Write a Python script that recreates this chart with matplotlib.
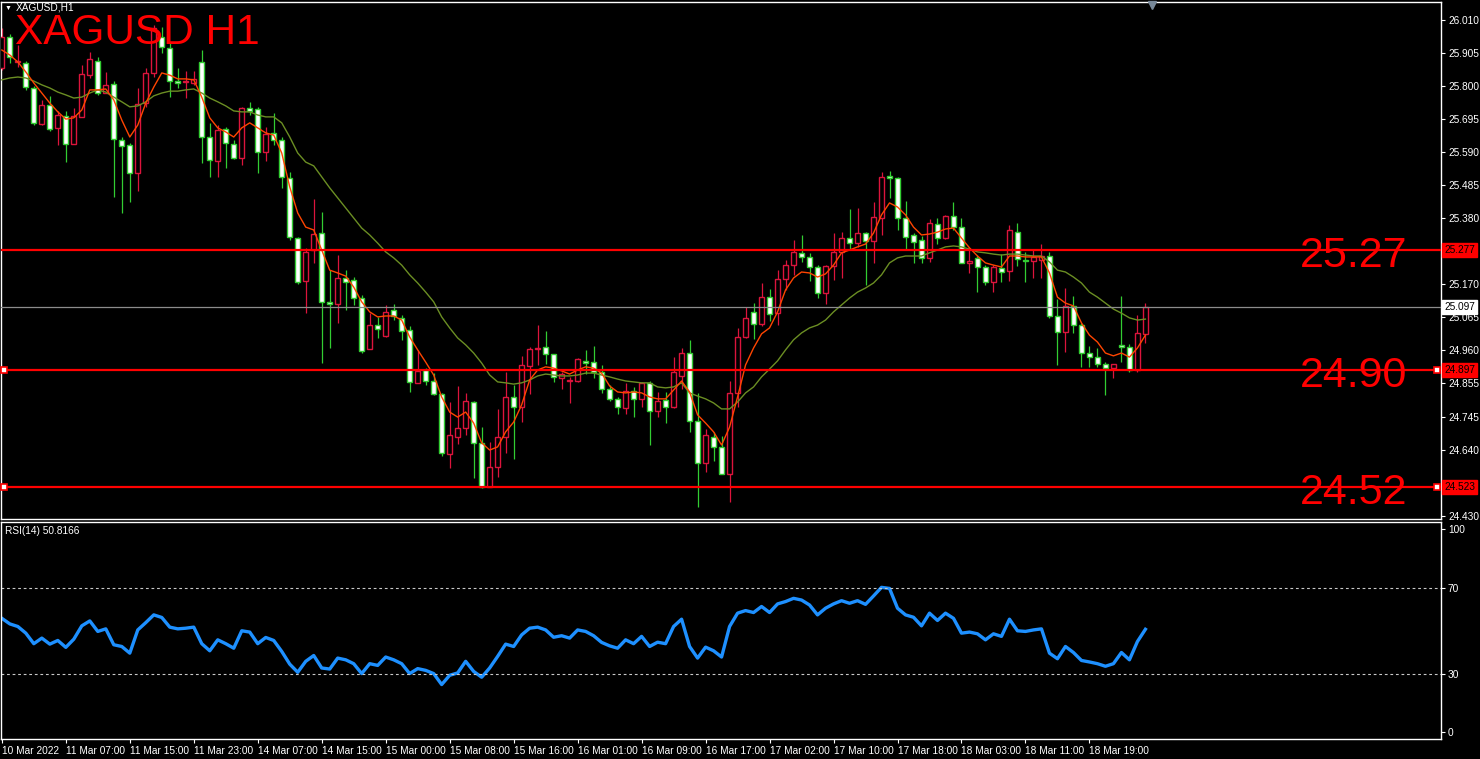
import numpy as np
import matplotlib
matplotlib.use('Agg')
import matplotlib.pyplot as plt
import matplotlib.transforms as mtransforms

plt.rcParams['font.family'] = ['Liberation Sans', 'DejaVu Sans']

# XAGUSD H1 bars, 10 Mar 23:00 .. 18 Mar 23:00
opens = [25.858, 25.956, 25.877, 25.874, 25.794, 25.679, 25.740, 25.667, 25.705, 25.616,
         25.702, 25.835, 25.880, 25.778, 25.807, 25.628, 25.613, 25.523, 25.746, 25.842,
         25.956, 25.921, 25.816, 25.813, 25.810, 25.877, 25.638, 25.562, 25.663, 25.616,
         25.571, 25.730, 25.727, 25.590, 25.651, 25.628, 25.507, 25.316, 25.179, 25.278,
         25.332, 25.113, 25.106, 25.189, 25.183, 25.125, 24.963, 25.039, 25.004, 25.087,
         25.062, 25.023, 24.855, 24.896, 24.861, 24.820, 24.628, 24.683, 24.711, 24.794,
         24.664, 24.523, 24.587, 24.683, 24.810, 24.778, 24.909, 24.963, 24.969, 24.947,
         24.871, 24.861, 24.861, 24.925, 24.921, 24.890, 24.836, 24.804, 24.775, 24.829,
         24.804, 24.855, 24.765, 24.800, 24.778, 24.877, 24.950, 24.734, 24.600, 24.683,
         24.651, 24.565, 24.823, 25.001, 25.081, 25.042, 25.128, 25.077, 25.186, 25.230,
         25.269, 25.256, 25.224, 25.141, 25.227, 25.272, 25.316, 25.300, 25.332, 25.307,
         25.380, 25.514, 25.507, 25.380, 25.326, 25.310, 25.253, 25.361, 25.316, 25.386,
         25.351, 25.237, 25.253, 25.224, 25.176, 25.221, 25.211, 25.335, 25.246, 25.243,
         25.246, 25.259, 25.068, 25.017, 25.100, 25.039, 24.950, 24.937, 24.915, 24.902,
         24.976, 24.969, 24.896, 25.011]
highs = [25.985, 25.966, 25.931, 25.880, 25.800, 25.756, 25.769, 25.721, 25.721, 25.730,
         25.867, 25.909, 25.893, 25.845, 25.816, 25.638, 25.619, 25.794, 25.858, 25.995,
         25.988, 25.937, 25.858, 25.848, 25.848, 25.915, 25.683, 25.676, 25.670, 25.628,
         25.734, 25.750, 25.734, 25.670, 25.714, 25.638, 25.527, 25.320, 25.285, 25.441,
         25.399, 25.214, 25.262, 25.214, 25.192, 25.135, 25.077, 25.065, 25.103, 25.106,
         25.071, 25.036, 24.960, 24.902, 24.886, 24.823, 24.794, 24.845, 24.823, 24.797,
         24.714, 24.667, 24.772, 24.890, 24.848, 24.941, 24.969, 25.039, 25.020, 24.947,
         24.890, 24.874, 24.934, 24.960, 24.972, 24.912, 24.848, 24.810, 24.855, 24.842,
         24.858, 24.861, 24.826, 24.826, 24.937, 24.966, 24.992, 24.823, 24.708, 24.699,
         24.686, 24.861, 25.030, 25.097, 25.109, 25.173, 25.154, 25.214, 25.246, 25.310,
         25.326, 25.269, 25.230, 25.230, 25.332, 25.335, 25.409, 25.412, 25.335, 25.431,
         25.527, 25.530, 25.511, 25.434, 25.332, 25.323, 25.377, 25.380, 25.390, 25.431,
         25.380, 25.278, 25.262, 25.230, 25.230, 25.265, 25.358, 25.364, 25.272, 25.281,
         25.297, 25.272, 25.122, 25.157, 25.132, 25.046, 24.972, 24.966, 24.921, 24.915,
         25.132, 24.979, 25.071, 25.109]
lows = [25.851, 25.874, 25.861, 25.788, 25.676, 25.676, 25.657, 25.613, 25.558, 25.616,
        25.702, 25.826, 25.772, 25.778, 25.447, 25.396, 25.431, 25.466, 25.734, 25.829,
        25.906, 25.765, 25.794, 25.762, 25.804, 25.555, 25.511, 25.511, 25.539, 25.568,
        25.549, 25.708, 25.523, 25.562, 25.613, 25.476, 25.310, 25.170, 25.077, 25.237,
        24.918, 24.966, 25.046, 25.087, 25.103, 24.950, 24.963, 24.998, 25.001, 25.055,
        24.992, 24.826, 24.855, 24.848, 24.816, 24.622, 24.584, 24.660, 24.689, 24.552,
        24.520, 24.523, 24.555, 24.632, 24.613, 24.730, 24.820, 24.912, 24.915, 24.858,
        24.836, 24.791, 24.858, 24.883, 24.871, 24.823, 24.797, 24.756, 24.756, 24.746,
        24.778, 24.657, 24.746, 24.727, 24.775, 24.836, 24.699, 24.460, 24.571, 24.606,
        24.565, 24.476, 24.778, 24.998, 24.995, 25.036, 25.052, 25.039, 25.151, 25.199,
        25.240, 25.179, 25.125, 25.106, 25.183, 25.189, 25.278, 25.288, 25.167, 25.237,
        25.326, 25.444, 25.342, 25.278, 25.237, 25.237, 25.240, 25.297, 25.313, 25.342,
        25.237, 25.205, 25.144, 25.167, 25.144, 25.176, 25.179, 25.227, 25.176, 25.189,
        25.189, 25.062, 24.912, 24.953, 25.014, 24.906, 24.906, 24.906, 24.816, 24.871,
        24.921, 24.890, 24.890, 24.982]
closes = [25.956, 25.893, 25.880, 25.797, 25.683, 25.740, 25.663, 25.708, 25.616, 25.705,
          25.839, 25.886, 25.778, 25.804, 25.632, 25.609, 25.523, 25.743, 25.842, 25.985,
          25.925, 25.816, 25.810, 25.816, 25.823, 25.638, 25.565, 25.660, 25.619, 25.571,
          25.730, 25.721, 25.590, 25.648, 25.628, 25.511, 25.320, 25.176, 25.272, 25.329,
          25.113, 25.106, 25.189, 25.176, 25.125, 24.956, 25.039, 25.027, 25.081, 25.068,
          25.020, 24.858, 24.893, 24.861, 24.820, 24.632, 24.689, 24.711, 24.797, 24.664,
          24.523, 24.587, 24.683, 24.810, 24.778, 24.912, 24.963, 24.966, 24.947, 24.874,
          24.883, 24.864, 24.931, 24.918, 24.890, 24.836, 24.804, 24.778, 24.829, 24.804,
          24.855, 24.765, 24.797, 24.778, 24.890, 24.950, 24.734, 24.600, 24.689, 24.651,
          24.565, 24.823, 25.001, 25.062, 25.042, 25.128, 25.074, 25.186, 25.230, 25.272,
          25.256, 25.224, 25.141, 25.227, 25.272, 25.316, 25.300, 25.332, 25.307, 25.383,
          25.511, 25.507, 25.380, 25.320, 25.304, 25.253, 25.364, 25.316, 25.386, 25.351,
          25.237, 25.243, 25.224, 25.176, 25.224, 25.208, 25.342, 25.249, 25.243, 25.256,
          25.259, 25.068, 25.017, 25.100, 25.039, 24.950, 24.937, 24.915, 24.902, 24.915,
          24.969, 24.896, 25.014, 25.097]

ma_fast = [25.915, 25.899, 25.877, 25.845, 25.810, 25.778, 25.746, 25.718, 25.695, 25.699,
           25.724, 25.788, 25.788, 25.791, 25.756, 25.692, 25.638, 25.676, 25.746, 25.797,
           25.842, 25.835, 25.823, 25.823, 25.820, 25.765, 25.699, 25.667, 25.654, 25.638,
           25.667, 25.683, 25.667, 25.651, 25.644, 25.587, 25.479, 25.396, 25.351, 25.342,
           25.278, 25.214, 25.205, 25.195, 25.160, 25.113, 25.081, 25.065, 25.068, 25.068,
           25.055, 25.001, 24.960, 24.921, 24.880, 24.810, 24.762, 24.746, 24.762, 24.727,
           24.664, 24.641, 24.651, 24.699, 24.730, 24.785, 24.864, 24.896, 24.906, 24.902,
           24.893, 24.883, 24.896, 24.906, 24.902, 24.886, 24.845, 24.826, 24.823, 24.826,
           24.823, 24.810, 24.804, 24.804, 24.832, 24.861, 24.826, 24.753, 24.727, 24.699,
           24.657, 24.714, 24.810, 24.912, 24.966, 25.011, 25.030, 25.081, 25.151, 25.189,
           25.208, 25.205, 25.192, 25.202, 25.230, 25.269, 25.278, 25.288, 25.297, 25.332,
           25.390, 25.428, 25.415, 25.390, 25.351, 25.326, 25.329, 25.335, 25.345, 25.348,
           25.316, 25.285, 25.259, 25.237, 25.230, 25.224, 25.259, 25.259, 25.256, 25.256,
           25.256, 25.205, 25.128, 25.109, 25.100, 25.046, 25.007, 24.985, 24.950, 24.941,
           24.950, 24.937, 24.966, 25.007]
ma_slow = [25.820, 25.826, 25.829, 25.826, 25.816, 25.804, 25.794, 25.781, 25.772, 25.762,
           25.765, 25.778, 25.788, 25.781, 25.765, 25.750, 25.734, 25.737, 25.750, 25.769,
           25.778, 25.784, 25.784, 25.788, 25.791, 25.778, 25.762, 25.750, 25.737, 25.721,
           25.718, 25.718, 25.708, 25.702, 25.702, 25.683, 25.638, 25.587, 25.558, 25.546,
           25.511, 25.476, 25.444, 25.412, 25.380, 25.348, 25.326, 25.300, 25.272, 25.253,
           25.230, 25.199, 25.173, 25.144, 25.113, 25.065, 25.030, 24.998, 24.976, 24.950,
           24.918, 24.880, 24.858, 24.855, 24.851, 24.855, 24.864, 24.877, 24.883, 24.880,
           24.877, 24.877, 24.880, 24.886, 24.886, 24.880, 24.874, 24.867, 24.861, 24.858,
           24.855, 24.855, 24.842, 24.839, 24.842, 24.855, 24.823, 24.813, 24.804, 24.791,
           24.772, 24.772, 24.794, 24.823, 24.842, 24.874, 24.899, 24.925, 24.960, 24.992,
           25.014, 25.030, 25.039, 25.055, 25.081, 25.103, 25.125, 25.144, 25.157, 25.173,
           25.199, 25.237, 25.253, 25.259, 25.259, 25.259, 25.269, 25.278, 25.288, 25.291,
           25.288, 25.281, 25.272, 25.269, 25.265, 25.262, 25.265, 25.265, 25.262, 25.259,
           25.259, 25.240, 25.214, 25.208, 25.192, 25.173, 25.144, 25.128, 25.109, 25.090,
           25.077, 25.062, 25.055, 25.058]
rsi = [55.9, 53.3, 52.1, 49.0, 44.1, 46.7, 43.9, 45.6, 42.4, 46.2,
       52.4, 54.7, 49.8, 51.0, 43.6, 42.8, 39.7, 50.5, 53.9, 57.5,
       56.3, 51.8, 51.0, 51.3, 51.8, 44.1, 40.8, 45.9, 44.1, 42.0,
       50.1, 49.5, 44.1, 47.0, 45.6, 40.5, 34.6, 30.8, 35.9, 38.6,
       32.8, 32.3, 37.4, 36.6, 34.8, 30.2, 34.8, 34.0, 37.9, 36.6,
       34.8, 30.2, 32.5, 31.7, 30.2, 25.1, 29.4, 30.5, 35.9, 31.2,
       28.5, 32.8, 38.2, 43.9, 42.8, 48.2, 51.3, 51.8, 50.5, 47.1,
       47.8, 46.7, 50.5, 49.8, 47.8, 44.7, 43.1, 42.0, 45.9, 44.1,
       47.5, 42.8, 44.8, 44.1, 52.1, 55.5, 42.8, 37.4, 42.5, 40.8,
       37.9, 52.1, 58.3, 59.5, 58.6, 61.4, 58.6, 62.6, 63.7, 65.2,
       64.4, 62.1, 57.5, 60.6, 62.6, 64.1, 62.9, 64.1, 62.4, 66.3,
       70.3, 69.8, 60.6, 57.5, 56.4, 52.4, 58.3, 54.9, 58.3, 55.9,
       49.0, 49.5, 48.7, 45.9, 48.7, 47.5, 55.5, 50.1, 49.8, 50.5,
       51.0, 39.7, 37.1, 42.8, 40.0, 36.3, 35.6, 34.8, 33.6, 34.8,
       40.0, 36.6, 45.1, 50.8]

levels = [25.277, 24.897, 24.523]
level_text = ['25.27', '24.90', '24.52']
bid = 25.097
price_ticks = [26.010, 25.905, 25.800, 25.695, 25.590, 25.485, 25.380,
               25.170, 25.065, 24.960, 24.855, 24.745, 24.640, 24.430]
time_labels = ['10 Mar 2022', '11 Mar 07:00', '11 Mar 15:00', '11 Mar 23:00',
               '14 Mar 07:00', '14 Mar 15:00', '15 Mar 00:00', '15 Mar 08:00',
               '15 Mar 16:00', '16 Mar 01:00', '16 Mar 09:00', '16 Mar 17:00',
               '17 Mar 02:00', '17 Mar 10:00', '17 Mar 18:00', '18 Mar 03:00',
               '18 Mar 11:00', '18 Mar 19:00']

W, H = 1480, 759
UP = '#DC143C'
DN = '#32CD32'
FS = 7.3

fig = plt.figure(figsize=(W / 100, H / 100), dpi=100, facecolor='black')
ax = fig.add_axes([0.5 / W, (H - 519) / H, 1440.5 / W, 517 / H], facecolor='black')
ax2 = fig.add_axes([0.5 / W, (H - 739) / H, 1440.5 / W, 217 / H], facecolor='black')

o = np.array(opens)
c = np.array(closes)
hi = np.array(highs)
lo = np.array(lows)
x = np.arange(len(o))
bull = c >= o

# candles
ax.vlines(x, lo, hi, colors=np.where(bull, UP, DN), lw=0.9, zorder=2)
body_lo = np.minimum(o, c)
body_h = np.maximum(np.abs(c - o), 0.002)
ax.bar(x, body_h, bottom=body_lo, width=0.6,
       color=np.where(bull, 'black', 'white'),
       edgecolor=np.where(bull, UP, DN), linewidth=1.0, zorder=3)

ax.plot(x, ma_slow, color='#6B8E23', lw=1, zorder=4)
ax.plot(x, ma_fast, color='#FF4500', lw=1, zorder=4)

# levels
ax.axhline(bid, color='#8c8c8c', lw=0.9, zorder=4)
for lv in levels:
    ax.axhline(lv, color='#ff0000', lw=1.6, zorder=5)

blend = mtransforms.blended_transform_factory(ax.transAxes, ax.transData)
for lv in levels[1:]:
    ax.plot([0.0025, 0.9975], [lv, lv], transform=blend, ls='none', marker='s',
            ms=4, mfc='white', mec='red', mew=1.2, zorder=6, clip_on=False)

for lv, t in zip(levels, level_text):
    ax.text(162.3, lv - 17 / 314, t, color='red', fontsize=31,
            ha='left', va='baseline', zorder=7)

ax.set_xlim(-0.166, 179.96)
ax.set_ylim(24.4214, 26.0679)
ax.yaxis.tick_right()
ax.set_yticks(price_ticks)
ax.set_yticklabels(['%.3f' % v for v in price_ticks])
ax.tick_params(axis='y', colors='white', labelsize=FS, length=3, width=0.8, pad=2)
ax.set_xticks([])
for s in ax.spines.values():
    s.set_color('white')
    s.set_linewidth(1)

# price tags on the axis
for lv in levels:
    ax.text(1.0 + 3 / 1441, lv, '%.3f' % lv, transform=blend, ha='left', va='center',
            fontsize=FS, color='black', zorder=8, clip_on=False,
            bbox=dict(boxstyle='square,pad=0.2', fc='red', ec='red'))
ax.text(1.0 + 3 / 1441, bid, '%.3f' % bid, transform=blend, ha='left', va='center',
        fontsize=FS, color='black', zorder=8, clip_on=False,
        bbox=dict(boxstyle='square,pad=0.2', fc='white', ec='white'))

# chart shift marker
ax.plot(len(x) - 1 + 0.8, 26.058, marker='v', color='#778899', ms=6,
        clip_on=False, zorder=9)

# titles
fig.text(5 / W, 1 - 8 / H, '\u25bc', color='white', fontsize=5, va='center')
fig.text(16 / W, 1 - 8 / H, 'XAGUSD,H1', color='white', fontsize=FS, va='center')
fig.text(15 / W, 1 - 44 / H, 'XAGUSD H1', color='red', fontsize=30.5, va='baseline')

# RSI panel
ax2.plot(x, rsi, color='#1E90FF', lw=2.4)
for lv in (70, 30):
    ax2.axhline(lv, color='#c8c8c8', lw=0.8, ls=(0, (2.5, 2.5)))
ax2.set_xlim(-0.166, 179.96)
ax2.set_ylim(-0.23, 100.7)
ax2.yaxis.tick_right()
ax2.set_yticks([2.8, 30, 70, 97.4])
ax2.set_yticklabels(['0', '30', '70', '100'])
ax2.tick_params(axis='y', colors='white', labelsize=FS, length=3, width=0.8, pad=2)
ax2.set_xticks(np.arange(0, len(x), 8)[:len(time_labels)])
ax2.set_xticklabels(time_labels, ha='left')
ax2.tick_params(axis='x', colors='white', labelsize=FS, length=3, width=0.8, pad=2)
for s in ax2.spines.values():
    s.set_color('white')
    s.set_linewidth(1)
ax2.text(5 / 1441, 0.958, 'RSI(14) 50.8166', transform=ax2.transAxes,
         color='white', fontsize=FS, va='center')

plt.savefig('out.png', dpi=100, facecolor='black')
